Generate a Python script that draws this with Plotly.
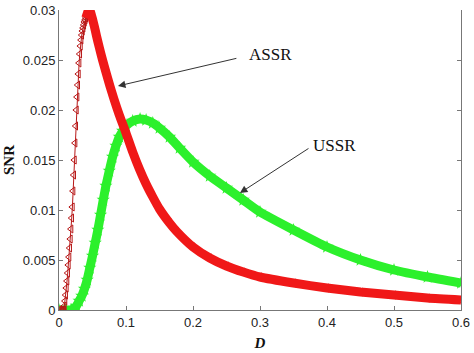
import plotly.graph_objects as go

# ---- data ----
d_assr = [0.000, 0.002, 0.004, 0.006, 0.007, 0.008, 0.009, 0.010, 0.011, 0.012,
          0.013, 0.014, 0.015, 0.016, 0.017, 0.018, 0.019, 0.020, 0.021, 0.022,
          0.023, 0.024, 0.025, 0.026, 0.027, 0.028, 0.029, 0.030, 0.031, 0.032,
          0.033, 0.034, 0.035, 0.036, 0.037, 0.038, 0.039, 0.040, 0.041, 0.042,
          0.043, 0.044, 0.045, 0.046, 0.048, 0.050, 0.053, 0.056, 0.060, 0.065,
          0.070, 0.076, 0.082, 0.090, 0.100, 0.110, 0.120, 0.130, 0.140, 0.150,
          0.165, 0.175, 0.200, 0.225, 0.250, 0.275, 0.300, 0.350, 0.400, 0.450,
          0.500, 0.550, 0.600]
snr_assr = [0.0, 0.0, 0.0, 0.0, 0.0, 0.0004, 0.0009, 0.0015, 0.0022, 0.0029,
            0.0037, 0.0045, 0.0053, 0.0062, 0.0071, 0.0081, 0.0092, 0.0103, 0.0119, 0.0135,
            0.0150, 0.0167, 0.0184, 0.0200, 0.0213, 0.0225, 0.0236, 0.0247, 0.0256, 0.0264,
            0.0270, 0.0275, 0.0279, 0.0282, 0.0285, 0.0288, 0.0290, 0.0292, 0.0294, 0.0296,
            0.0298, 0.0299, 0.0300, 0.0300, 0.0296, 0.0291, 0.0283, 0.0274, 0.0263, 0.0250,
            0.0238, 0.0224, 0.0211, 0.0195, 0.0177, 0.0158, 0.0141, 0.0126, 0.0113, 0.0101,
            0.0087, 0.0079, 0.0063, 0.0052, 0.0044, 0.0038, 0.0033, 0.0027, 0.0022, 0.0018,
            0.0015, 0.0012, 0.0010]

d_ussr = [0.000, 0.010, 0.018, 0.022, 0.026, 0.030, 0.034, 0.038, 0.042, 0.046,
          0.050, 0.054, 0.058, 0.062, 0.066, 0.070, 0.075, 0.080, 0.085, 0.090,
          0.095, 0.100, 0.110, 0.121, 0.130, 0.140, 0.150, 0.165, 0.180, 0.200,
          0.225, 0.250, 0.275, 0.300, 0.350, 0.400, 0.450, 0.500, 0.550, 0.600]
snr_ussr = [0.0, 0.0, 0.0, 0.0001, 0.0004, 0.0009, 0.0014, 0.0021, 0.0030, 0.0042,
            0.0054, 0.0067, 0.0080, 0.0095, 0.0110, 0.0124, 0.0139, 0.0153, 0.0164, 0.0173,
            0.0179, 0.0184, 0.0189, 0.0191, 0.0190, 0.0187, 0.0182, 0.0173, 0.0162, 0.0148,
            0.0134, 0.0122, 0.0110, 0.0098, 0.0080, 0.0063, 0.0050, 0.0040, 0.0033, 0.0027]

x_ticks = [0, 0.1, 0.2, 0.3, 0.4, 0.5, 0.6]
x_labels = ["0", "0.1", "0.2", "0.3", "0.4", "0.5", "0.6"]
y_ticks = [0, 0.005, 0.01, 0.015, 0.02, 0.025, 0.03]
y_labels = ["0", "0.005", "0.01", "0.015", "0.02", "0.025", "0.03"]

RED = "#f01818"
GREEN = "#2cf02c"

# index where the dense (band-like) part of the red curve starts
band_start = next(i for i, v in enumerate(d_assr) if v >= 0.040)

fig = go.Figure()

# USSR green band
fig.add_trace(go.Scatter(
    x=d_ussr, y=snr_ussr, mode="lines+markers",
    line=dict(color=GREEN, width=9, shape="spline", smoothing=0.5),
    marker=dict(symbol="star", size=10, color=GREEN),
    showlegend=False, hoverinfo="skip"))

# ASSR thin line with open left triangles
fig.add_trace(go.Scatter(
    x=d_assr, y=snr_assr, mode="lines+markers",
    line=dict(color="#b81818", width=1),
    marker=dict(symbol="triangle-left-open", size=7,
                line=dict(color="#cc1a1a", width=1)),
    showlegend=False, hoverinfo="skip"))

# ASSR dense band part
fig.add_trace(go.Scatter(
    x=d_assr[band_start:], y=snr_assr[band_start:], mode="lines",
    line=dict(color=RED, width=9, shape="spline", smoothing=0.6),
    showlegend=False, hoverinfo="skip"))

axis_font = dict(family="Liberation Sans, Arial, sans-serif", size=13, color="#222")

fig.update_layout(
    width=474, height=353,
    margin=dict(l=59, r=13, t=10, b=43),
    paper_bgcolor="white", plot_bgcolor="white",
    xaxis=dict(range=[0, 0.6], tickvals=x_ticks, ticktext=x_labels,
               ticks="inside", ticklen=4, tickcolor="#777", automargin=False,
               showline=True, linecolor="#777", linewidth=1, mirror=False,
               showgrid=False, zeroline=False, tickfont=axis_font,
               title=dict(text="<b><i>D</i></b>", standoff=8,
                          font=dict(family="Liberation Serif, Times New Roman, serif",
                                    size=15, color="#111"))),
    yaxis=dict(range=[0, 0.03], tickvals=y_ticks, ticktext=y_labels,
               ticks="inside", ticklen=4, tickcolor="#777", automargin=False,
               showline=True, linecolor="#777", linewidth=1, mirror="ticks",
               showgrid=False, zeroline=False, tickfont=axis_font,
               title=dict(text="<b>SNR</b>", standoff=4,
                          font=dict(family="Liberation Serif, Times New Roman, serif",
                                    size=15, color="#111"))),
    xaxis2=dict(overlaying="x", side="top", range=[0, 0.6], tickvals=x_ticks,
                ticks="inside", ticklen=4, tickcolor="#bbb", automargin=False,
                showticklabels=False, showline=False, showgrid=False, zeroline=False),
)

serif = dict(family="Liberation Serif, Times New Roman, serif", size=17, color="#111")

fig.add_annotation(x=0.088, y=0.0224, ax=0.267, ay=0.0252, xref="x", yref="y",
                   axref="x", ayref="y", text="", showarrow=True,
                   arrowhead=2, arrowsize=1.5, arrowwidth=1, arrowcolor="#333")
fig.add_annotation(x=0.270, y=0.0117, ax=0.3746, ay=0.01625, xref="x", yref="y",
                   axref="x", ayref="y", text="", showarrow=True,
                   arrowhead=2, arrowsize=1.5, arrowwidth=1, arrowcolor="#333")
fig.add_annotation(x=0.315, y=0.0256, xref="x", yref="y", text="ASSR",
                   showarrow=False, font=serif)
fig.add_annotation(x=0.411, y=0.0165, xref="x", yref="y", text="USSR",
                   showarrow=False, font=serif)

fig.write_html("out.html")
